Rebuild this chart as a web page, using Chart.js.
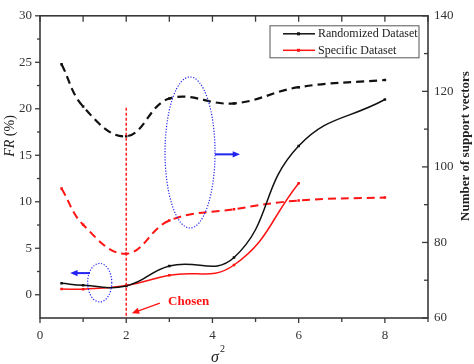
<!DOCTYPE html>
<html>
<head>
<meta charset="utf-8">
<script src="https://cdn.jsdelivr.net/npm/chart.js@4"></script>
<style>
html,body{margin:0;padding:0;background:#fff;}
#wrap{width:474px;height:364px;position:relative;}
</style>
</head>
<body>
<div id="wrap"><canvas id="c"></canvas></div>
<script>
// ---- data ----
const xVals = [0.5, 1, 2, 3, 4.5, 6, 8];
const randFR = [1.23, 1.03, 0.95, 3.1, 4.0, 16.0, 21.0];
const specFR = [0.61, 0.6, 1.0, 2.1, 3.2, 12.0];
const randSV = [127.2, 116.0, 108.1, 118.1, 116.8, 121.1, 123.0];
const specSV = [94.3, 84.7, 77.0, 85.8, 88.8, 91.1, 91.9];
const xTicks = [0, 2, 4, 6, 8];
const leftTicks = [0, 5, 10, 15, 20, 25, 30];
const rightTicks = [60, 80, 100, 120, 140];
const seriesNames = ['Randomized Dataset', 'Specific Dataset'];
const chosenX = 2;

const BLACK = '#111111', RED = '#ff1414', BLUE = '#2323f0', AX = '#3a3a3a';
const FONT = "'Liberation Serif', 'Times New Roman', serif";

function pts(xs, ys) { return ys.map((y, i) => ({x: xs[i], y: y})); }

const decor = {
  id: 'decor',
  afterDatasetsDraw(chart) {
    const ctx = chart.ctx, a = chart.chartArea;
    const sx = chart.scales.x, sl = chart.scales.yL, sr = chart.scales.yR;
    ctx.save();
    // frame
    ctx.strokeStyle = AX; ctx.lineWidth = 1.6; ctx.setLineDash([]);
    ctx.strokeRect(a.left, a.top, a.right - a.left, a.bottom - a.top);
    ctx.lineWidth = 1.3;
    // x ticks (bottom outward, top inward)
    for (let v = 0; v <= 9; v += 1) {
      const px = sx.getPixelForValue(v);
      const major = v % 2 === 0;
      ctx.beginPath();
      ctx.moveTo(px, a.bottom); ctx.lineTo(px, a.bottom + (major ? 5 : 4));
      ctx.moveTo(px, a.top); ctx.lineTo(px, a.top + 6);
      ctx.stroke();
    }
    // left ticks outward
    for (let v = 0; v <= 30; v += 2.5) {
      const py = sl.getPixelForValue(v);
      const major = v % 5 === 0;
      ctx.beginPath(); ctx.moveTo(a.left, py); ctx.lineTo(a.left - (major ? 5 : 3), py); ctx.stroke();
    }
    // right ticks inward
    for (let v = 60; v <= 140; v += 10) {
      const py = sr.getPixelForValue(v);
      const major = v % 20 === 0;
      ctx.beginPath(); ctx.moveTo(a.right, py); ctx.lineTo(a.right - (major ? 6 : 4), py); ctx.stroke();
    }
    // vertical dotted line at chosen sigma
    ctx.strokeStyle = RED; ctx.lineWidth = 1.4; ctx.setLineDash([3, 2]);
    const cx = sx.getPixelForValue(chosenX);
    ctx.beginPath(); ctx.moveTo(cx, sl.getPixelForValue(20.1)); ctx.lineTo(cx, a.bottom); ctx.stroke();
    ctx.setLineDash([]);

    // blue dotted ellipses
    function ell(xc, yc, rxv, ryv) {
      const px = sx.getPixelForValue(xc), py = sl.getPixelForValue(yc);
      const rx = sx.getPixelForValue(xc + rxv) - px;
      const ry = py - sl.getPixelForValue(yc + ryv);
      ctx.strokeStyle = BLUE; ctx.lineWidth = 1.2; ctx.setLineDash([1.2, 1.6]);
      ctx.beginPath(); ctx.ellipse(px, py, rx, ry, 0, 0, Math.PI * 2); ctx.stroke();
      ctx.setLineDash([]);
    }
    function arrow(x1, y1, x2, y2, color, w, head) {
      const p1x = sx.getPixelForValue(x1), p1y = sl.getPixelForValue(y1);
      const p2x = sx.getPixelForValue(x2), p2y = sl.getPixelForValue(y2);
      const ang = Math.atan2(p2y - p1y, p2x - p1x);
      ctx.strokeStyle = color; ctx.fillStyle = color; ctx.lineWidth = w;
      ctx.beginPath(); ctx.moveTo(p1x, p1y);
      ctx.lineTo(p2x - Math.cos(ang) * head * 0.8, p2y - Math.sin(ang) * head * 0.8); ctx.stroke();
      ctx.beginPath();
      ctx.moveTo(p2x, p2y);
      ctx.lineTo(p2x - head * Math.cos(ang - 0.4), p2y - head * Math.sin(ang - 0.4));
      ctx.lineTo(p2x - head * Math.cos(ang + 0.4), p2y - head * Math.sin(ang + 0.4));
      ctx.closePath(); ctx.fill();
    }
    ell(3.48, 15.3, 0.58, 8.12);
    arrow(4.06, 15.1, 4.64, 15.1, BLUE, 2, 8);
    ell(1.385, 1.3, 0.28, 2.07);
    arrow(1.16, 2.33, 0.70, 2.33, BLUE, 2, 8);
    // Chosen annotation
    arrow(2.78, -0.91, 2.13, -1.98, RED, 1.3, 8);
    ctx.fillStyle = RED; ctx.font = 'bold 13px ' + FONT;
    ctx.textAlign = 'left'; ctx.textBaseline = 'middle';
    ctx.fillText('Chosen', sx.getPixelForValue(2.97), sl.getPixelForValue(-0.78));

    // legend
    const lx = a.left + 230, ly = a.top + 10, lw = 149, lh = 32;
    ctx.strokeStyle = '#555'; ctx.lineWidth = 1;
    ctx.strokeRect(lx, ly, lw, lh);
    [BLACK, RED].forEach((col, i) => {
      const y = ly + 8 + i * 16.5;
      ctx.strokeStyle = col; ctx.lineWidth = 1.5;
      ctx.beginPath(); ctx.moveTo(lx + 13, y); ctx.lineTo(lx + 45, y); ctx.stroke();
      ctx.fillStyle = col; ctx.fillRect(lx + 27, y - 1.5, 3, 3);
      ctx.fillStyle = '#222'; ctx.font = '12px ' + FONT;
      ctx.textAlign = 'left'; ctx.textBaseline = 'middle';
      ctx.fillText(seriesNames[i], lx + 48, y + 0.5);
    });

    // axis titles
    ctx.fillStyle = '#222';
    // left: FR (%)
    ctx.save();
    ctx.translate(10, 136); ctx.rotate(-Math.PI / 2);
    ctx.textBaseline = 'middle'; ctx.textAlign = 'left';
    ctx.font = 'italic 14px ' + FONT; const w1 = ctx.measureText('FR').width;
    ctx.font = '14px ' + FONT; const w2 = ctx.measureText(' (%)').width;
    const st = -(w1 + w2) / 2;
    ctx.font = 'italic 14px ' + FONT; ctx.fillText('FR', st, 0);
    ctx.font = '14px ' + FONT; ctx.fillText(' (%)', st + w1, 0);
    ctx.restore();
    // right
    ctx.save();
    ctx.translate(466, 146); ctx.rotate(-Math.PI / 2);
    ctx.textBaseline = 'middle'; ctx.textAlign = 'center';
    ctx.font = 'bold 13px ' + FONT;
    ctx.fillText('Number of support vectors', 0, 0);
    ctx.restore();
    // bottom: sigma^2
    ctx.textAlign = 'left'; ctx.textBaseline = 'alphabetic';
    ctx.font = 'italic 16px ' + FONT;
    ctx.fillText('\u03c3', 211, 362);
    ctx.font = '10px ' + FONT;
    ctx.fillText('2', 220, 352);
    ctx.restore();
  }
};

const tickFont = {family: FONT, size: 13};
new Chart(document.getElementById('c'), {
  type: 'line',
  data: {
    datasets: [
      {label: seriesNames[0] + ' FR', data: pts(xVals, randFR), yAxisID: 'yL',
       borderColor: BLACK, backgroundColor: BLACK, borderWidth: 1.5, tension: 0.45,
       pointStyle: 'rect', pointRadius: 1.8, pointBorderWidth: 0},
      {label: seriesNames[1] + ' FR', data: pts(xVals, specFR), yAxisID: 'yL',
       borderColor: RED, backgroundColor: RED, borderWidth: 1.5, tension: 0.45,
       pointStyle: 'rect', pointRadius: 1.8, pointBorderWidth: 0},
      {label: seriesNames[0] + ' SV', data: pts(xVals, randSV), yAxisID: 'yR',
       borderColor: BLACK, backgroundColor: BLACK, borderWidth: 2.2, borderDash: [8, 5], tension: 0.4,
       pointStyle: 'rect', pointRadius: 1.8, pointBorderWidth: 0},
      {label: seriesNames[1] + ' SV', data: pts(xVals, specSV), yAxisID: 'yR',
       borderColor: RED, backgroundColor: RED, borderWidth: 2, borderDash: [8, 5], tension: 0.4,
       pointStyle: 'rect', pointRadius: 1.8, pointBorderWidth: 0}
    ]
  },
  options: {
    responsive: true, maintainAspectRatio: false, animation: false,
    layout: {padding: {top: 5, left: 0, right: 0, bottom: 0}},
    plugins: {legend: {display: false}, tooltip: {enabled: false}},
    scales: {
      x: {type: 'linear', position: 'bottom', min: 0, max: 9,
          afterBuildTicks: s => { s.ticks = xTicks.map(v => ({value: v})); },
          afterFit: s => { s.height = 46; },
          grid: {display: true, drawOnChartArea: false, drawTicks: false},
          border: {display: false},
          ticks: {font: tickFont, color: '#333', padding: 10, maxRotation: 0}},
      yL: {type: 'linear', position: 'left', min: -2.5, max: 30,
          afterBuildTicks: s => { s.ticks = leftTicks.map(v => ({value: v})); },
          afterFit: s => { s.width = 40; },
          grid: {display: true, drawOnChartArea: false, drawTicks: false},
          border: {display: false},
          ticks: {font: tickFont, color: '#333', padding: 8}},
      yR: {type: 'linear', position: 'right', min: 60, max: 140,
          afterBuildTicks: s => { s.ticks = rightTicks.map(v => ({value: v})); },
          afterFit: s => { s.width = 46; },
          grid: {display: true, drawOnChartArea: false, drawTicks: false},
          border: {display: false},
          ticks: {font: tickFont, color: '#333', padding: 6}}
    }
  },
  plugins: [decor]
});
</script>
</body>
</html>
